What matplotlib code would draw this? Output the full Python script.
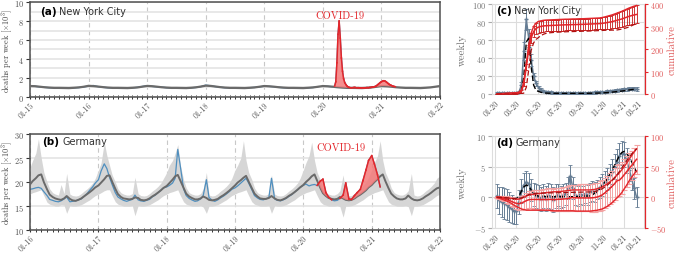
import numpy as np
import pandas as pd
import matplotlib
matplotlib.use('Agg')
import matplotlib.pyplot as plt
import matplotlib.dates as mdates

plt.rcParams['font.family'] = 'serif'
plt.rcParams['font.serif'] = ['cmr10']
plt.rcParams['mathtext.fontset'] = 'cm'
plt.rcParams['axes.formatter.use_mathtext'] = True

# ---------------- (a) New York City, deaths per week [x10^3] ----------------
nyc_months = pd.date_range('2015-01-01', '2022-01-01', freq='MS')
nyc_expected = [
    1.15, 1.13, 1.08, 1.02, 0.98, 0.95, 0.95, 0.94, 0.93, 0.96, 1.00, 1.07,
    1.17, 1.14, 1.09, 1.03, 0.98, 0.95, 0.95, 0.94, 0.93, 0.96, 1.00, 1.08,
    1.16, 1.13, 1.08, 1.02, 0.98, 0.95, 0.95, 0.94, 0.93, 0.96, 1.01, 1.09,
    1.19, 1.16, 1.10, 1.03, 0.98, 0.95, 0.95, 0.94, 0.93, 0.96, 1.00, 1.07,
    1.15, 1.12, 1.08, 1.02, 0.98, 0.95, 0.95, 0.94, 0.93, 0.96, 1.00, 1.07,
    1.15, 1.12, 1.08, 1.02, 0.98, 0.95, 0.95, 0.94, 0.93, 0.96, 1.00, 1.07,
    1.15, 1.12, 1.08, 1.02, 0.98, 0.95, 0.95, 0.94, 0.93, 0.96, 1.00, 1.07,
    1.15]
nyc_observed_pre = [
    1.18, 1.12, 1.06, 1.01, 0.97, 0.95, 0.96, 0.93, 0.92, 0.95, 0.99, 1.05,
    1.14, 1.20, 1.08, 1.01, 0.97, 0.94, 0.96, 0.93, 0.94, 0.95, 1.01, 1.10,
    1.18, 1.11, 1.07, 1.03, 0.97, 0.94, 0.94, 0.95, 0.92, 0.95, 1.00, 1.08,
    1.24, 1.17, 1.09, 1.02, 0.97, 0.96, 0.94, 0.93, 0.93, 0.97, 1.00, 1.06,
    1.13, 1.11, 1.07, 1.01, 0.97, 0.94, 0.96, 0.94, 0.92, 0.96, 0.99, 1.08]
nyc_weeks = pd.date_range('2020-01-05', '2021-03-28', freq='7D')
nyc_observed_wk = [
    1.17, 1.15, 1.13, 1.12, 1.12, 1.10, 1.09, 1.08,
    1.07, 1.08, 1.15, 1.60, 3.60, 6.60, 8.00, 6.20, 4.10,
    2.70, 1.90, 1.50, 1.30, 1.15, 1.05, 1.00, 0.97, 0.96,
    0.97, 0.99, 1.00, 0.97, 0.96, 0.97, 0.95, 0.94, 0.96,
    0.95, 0.94, 0.95, 0.97, 0.98, 0.97, 0.99, 1.00,
    1.02, 1.04, 1.06, 1.10, 1.15, 1.25, 1.35, 1.45, 1.55,
    1.62, 1.68, 1.70, 1.66, 1.58, 1.48, 1.38, 1.30, 1.24,
    1.18, 1.13, 1.10, 1.08]
nyc_expected_wk = [
    1.15, 1.14, 1.13, 1.12, 1.12, 1.11, 1.10, 1.09,
    1.08, 1.07, 1.06, 1.05, 1.04, 1.03, 1.02, 1.01, 1.00,
    0.99, 0.98, 0.97, 0.97, 0.96, 0.96, 0.95, 0.95, 0.95,
    0.95, 0.95, 0.95, 0.95, 0.94, 0.94, 0.94, 0.94, 0.93,
    0.93, 0.93, 0.93, 0.94, 0.95, 0.96, 0.97, 0.98,
    0.99, 1.00, 1.01, 1.03, 1.04, 1.06, 1.08, 1.10, 1.12,
    1.14, 1.15, 1.15, 1.15, 1.14, 1.13, 1.12, 1.11, 1.10,
    1.09, 1.08, 1.07, 1.06]

# ---------------- (b) Germany, deaths per week [x10^3], semi-monthly ----------------
de_dates = pd.date_range('2016-01-01', '2022-01-01', freq='SMS')
de_expected = [
    19.5, 20.2, 20.8, 21.4, 21.6, 20.0, 18.5, 17.4, 16.9, 16.6, 16.4, 16.3, 16.6, 17.1, 16.5, 16.2, 16.1, 16.3, 16.6, 17.0, 17.5, 17.9, 18.4, 18.9,
    19.3, 19.9, 20.6, 21.3, 21.4, 20.1, 18.6, 17.5, 16.9, 16.6, 16.5, 16.4, 16.5, 16.8, 16.7, 16.3, 16.2, 16.3, 16.6, 17.0, 17.4, 17.8, 18.3, 18.8,
    19.2, 19.8, 20.5, 21.2, 21.5, 20.3, 18.8, 17.6, 17.0, 16.7, 16.4, 16.4, 16.6, 17.0, 16.7, 16.3, 16.2, 16.3, 16.5, 16.9, 17.3, 17.7, 18.2, 18.7,
    19.3, 19.9, 20.4, 20.9, 21.3, 20.1, 18.7, 17.6, 17.0, 16.6, 16.5, 16.5, 16.7, 17.1, 16.6, 16.3, 16.2, 16.4, 16.7, 17.1, 17.5, 17.9, 18.4, 18.9,
    19.4, 20.0, 20.6, 21.2, 21.6, 20.3, 18.8, 17.7, 17.1, 16.7, 16.5, 16.4, 16.5, 16.9, 16.6, 16.3, 16.2, 16.3, 16.6, 17.0, 17.4, 17.8, 18.3, 18.9,
    19.4, 20.0, 20.6, 21.2, 21.6, 20.2, 18.7, 17.6, 17.0, 16.6, 16.4, 16.4, 16.6, 17.2, 16.6, 16.3, 16.2, 16.3, 16.6, 17.0, 17.4, 17.8, 18.3, 18.7,
    18.9]
de_upper = [
    23.0, 24.5, 26.0, 29.0, 25.0, 22.0, 20.0, 18.6, 17.8, 17.5, 17.3, 19.5, 17.6, 21.8, 17.5, 17.2, 17.1, 17.2, 17.6, 18.1, 18.6, 19.1, 19.8, 20.8,
    22.5, 24.0, 28.3, 25.5, 23.5, 21.5, 20.0, 18.6, 17.8, 17.5, 17.3, 17.3, 17.6, 21.0, 17.6, 17.2, 17.1, 17.2, 17.6, 18.1, 18.6, 19.1, 19.8, 20.8,
    22.0, 23.5, 24.5, 26.0, 27.8, 23.5, 20.5, 18.8, 17.8, 17.5, 17.3, 17.3, 17.6, 18.6, 22.0, 17.3, 17.1, 17.2, 17.6, 18.1, 18.6, 19.1, 19.8, 20.8,
    22.5, 23.5, 25.0, 28.6, 24.5, 22.0, 20.5, 18.8, 17.8, 17.5, 17.3, 17.3, 17.6, 21.5, 17.5, 17.2, 17.1, 17.2, 17.6, 18.1, 18.6, 19.1, 19.8, 20.8,
    22.5, 24.0, 25.5, 28.3, 24.5, 22.0, 20.5, 18.8, 17.8, 17.5, 17.3, 17.3, 17.6, 18.2, 21.5, 17.3, 17.1, 17.2, 17.6, 18.1, 18.6, 19.3, 20.0, 21.0,
    22.5, 24.0, 25.5, 28.6, 24.5, 22.0, 20.5, 18.8, 17.8, 17.5, 17.3, 17.3, 17.6, 18.2, 21.8, 17.3, 17.1, 17.2, 17.6, 18.1, 18.6, 19.1, 19.8, 20.8,
    21.3]
de_lower = [
    17.5, 17.8, 18.0, 18.2, 18.4, 17.2, 15.8, 15.4, 15.2, 15.0, 15.0, 15.3, 15.2, 13.5, 15.1, 15.0, 15.0, 15.1, 15.3, 15.6, 16.0, 16.3, 16.8, 17.2,
    17.5, 17.8, 18.2, 18.4, 18.4, 17.2, 15.9, 15.4, 15.2, 15.0, 15.0, 15.0, 15.1, 13.0, 15.1, 15.0, 15.0, 15.1, 15.3, 15.6, 16.0, 16.3, 16.8, 17.2,
    17.5, 17.8, 18.0, 18.2, 18.4, 17.2, 15.9, 15.4, 15.2, 15.0, 15.0, 15.0, 15.1, 14.8, 13.5, 15.0, 15.0, 15.1, 15.3, 15.6, 16.0, 16.3, 16.8, 17.2,
    17.5, 17.8, 18.0, 18.2, 18.4, 17.2, 15.9, 15.4, 15.2, 15.0, 15.0, 15.0, 15.1, 13.5, 15.1, 15.0, 15.0, 15.1, 15.3, 15.6, 16.0, 16.3, 16.8, 17.2,
    17.5, 17.8, 18.0, 18.2, 18.4, 17.2, 15.9, 15.4, 15.2, 15.0, 15.0, 15.0, 15.1, 14.9, 12.7, 15.0, 15.0, 15.1, 15.3, 15.6, 16.0, 16.3, 16.8, 17.2,
    17.5, 17.8, 18.0, 18.2, 18.4, 17.2, 15.9, 15.4, 15.2, 15.0, 15.0, 15.0, 15.1, 14.9, 13.0, 15.0, 15.0, 15.1, 15.3, 15.6, 16.0, 16.3, 16.8, 17.2,
    17.5]
de_observed = [
    18.5, 18.6, 18.8, 18.9, 18.7, 18.0, 17.2, 16.4, 16.2, 16.0, 15.9, 16.1, 16.5, 16.9, 15.9, 16.0, 16.1, 16.3, 16.5, 17.0, 17.6, 18.3, 19.0, 19.8,
    20.5, 22.3, 23.8, 22.8, 21.0, 19.5, 17.8, 16.9, 16.5, 16.2, 16.0, 16.2, 16.4, 17.3, 16.3, 16.1, 16.0, 16.2, 16.4, 16.9, 17.3, 17.8, 18.3, 18.8,
    19.0, 19.3, 19.8, 20.8, 26.8, 23.2, 18.6, 17.2, 16.6, 16.3, 16.0, 16.1, 16.5, 17.2, 20.5, 16.8, 16.2, 16.0, 16.3, 16.7, 17.1, 17.5, 18.0, 18.5,
    18.8, 19.2, 19.8, 20.3, 20.8, 19.8, 18.4, 17.2, 16.7, 16.4, 16.3, 16.5, 16.8, 20.8, 16.5, 16.2, 16.1, 16.3, 16.6, 17.0, 17.4, 17.9, 18.4, 18.9,
    19.3, 19.6, 19.2, 19.4, 19.5, 19.3, 20.2, 20.6, 17.8, 16.9, 16.3, 16.1, 16.2, 16.6, 17.3, 19.8, 16.5, 16.4, 17.2, 17.8, 18.5, 20.3, 22.5, 24.5,
    25.5, 23.8, 21.5, 19.0]

# ---------------- (c)/(d) excess deaths per 100k, weekly and cumulative ----------------
wk_dates = pd.date_range('2020-01-05', periods=58, freq='7D')

nyc_weekly = [
    1.0, 1.2, 0.8, 1.1, 0.9, 1.0, 1.3, 0.8, 1.2, 2.0,
    10, 48, 83, 62, 38, 20, 12, 7, 5, 3.5, 2.5,
    2.0, 1.8, 1.5, 1.6, 1.4, 1.5, 1.3, 1.5, 1.2, 1.4, 1.3, 1.5, 1.2, 1.4, 1.6, 1.3, 1.5, 1.7, 1.6, 1.8, 2.0, 2.2,
    2.4, 2.7, 3.0, 3.2, 3.6, 3.9, 4.2, 4.6, 5.0, 5.3, 5.6, 5.8, 6.0, 5.8, 5.6]
nyc_weekly_err = [
    1.0, 1.0, 1.0, 1.0, 1.0, 1.0, 1.0, 1.0, 1.0, 1.2,
    4, 10, 12, 10, 7, 4, 3, 2, 1.5, 1.5, 1.5,
    1.2, 1.2, 1.2, 1.2, 1.2, 1.2, 1.2, 1.2, 1.2, 1.2, 1.2, 1.2, 1.2, 1.2, 1.2, 1.2, 1.2, 1.2, 1.2, 1.2, 1.3, 1.3,
    1.3, 1.3, 1.4, 1.4, 1.4, 1.5, 1.5, 1.5, 1.6, 1.6, 1.6, 1.7, 1.7, 1.7, 1.8]
nyc_weekly_model = [
    0.2, 0.2, 0.2, 0.2, 0.2, 0.2, 0.2, 0.3, 0.5, 1.0,
    3, 20, 58, 62, 30, 10, 4, 3, 2, 1.5, 1.2,
    1.0, 1.0, 0.9, 0.9, 0.9, 0.8, 0.8, 0.8, 0.8, 0.8, 0.8, 0.8, 0.8, 0.8, 0.8, 0.9, 0.9, 1.0, 1.0, 1.1, 1.1, 1.2,
    1.3, 1.5, 1.7, 1.9, 2.2, 2.5, 2.8, 3.1, 3.4, 3.8, 4.2, 4.6, 5.0, 5.3, 5.5]
nyc_cum = [
    0.5, 1, 1.5, 2, 2.5, 3, 3.5, 4, 4.5, 6,
    12, 45, 120, 200, 250, 278, 292, 298, 301, 303, 304,
    304.5, 305, 305.5, 306, 306.5, 307, 307.5, 308, 308, 308.5, 309, 309, 309.5, 310, 310, 310.5, 311, 311.5, 312, 312.5, 313, 313.5,
    314.5, 316, 318, 320, 322, 325, 328, 331, 334, 338, 342, 346, 349, 352, 354]
nyc_cum_err = [
    1, 1, 1, 1, 1.5, 1.5, 1.5, 2, 2, 3,
    5, 10, 15, 20, 22, 23, 24,
    25, 25, 25, 25, 25, 25, 25, 25, 25, 25, 25, 25, 25, 25, 25, 25, 25, 25, 25, 25, 25, 25, 25, 25, 25, 25,
    26, 27, 28, 29, 30, 31, 32, 33, 34, 35, 36, 37, 38, 39, 40]
nyc_cum_model = [
    0, 0, 0, 0, 0, 0, 0, 0, 0, 1, 2,
    5, 30, 110, 195, 228, 243, 252, 260, 266, 270,
    272, 273, 274, 275, 275.5, 276, 276.5, 277, 277.5, 278, 278, 278.5, 279, 279, 279.5, 280, 280, 280.5, 281, 281.5, 282, 282.5,
    283, 283.5, 284, 284, 284.5, 284.5, 285, 287, 289, 292, 295, 299, 304, 309, 314]

de_weekly = [
    0.2, -0.5, -0.8, -1.0, -1.2, -1.6, -1.9, -2.2, -2.3, -0.8,
    1.0, 2.0, 2.5, 2.2, 1.2, 0.5, 0.2, 0.0, -0.3, 0.2,
    -0.2, 0.3, 0.1, -0.4, 0.2, 0.4, 0.1, 0.3, 0.6, 1.5,
    3.5, 1.5, 0.4, 0.2, 0.5, 0.3, 0.6, 0.4, 0.8, 1.0,
    0.9, 1.3, 1.6, 2.0, 2.5, 3.0, 3.6, 4.2, 5.0, 5.8,
    6.8, 7.2, 7.0, 6.0, 4.5, 3.0, 1.5, 0.0]
de_weekly_err = [
    2.0, 2.2, 2.4, 2.5, 2.5, 2.4, 2.3, 2.2, 2.0, 2.0,
    2.0, 1.9, 1.8, 1.8, 1.8, 1.9, 2.0, 2.0, 2.0, 2.0,
    2.0, 2.0, 2.0, 2.0, 1.9, 1.8, 1.8, 1.8, 1.8, 1.8,
    1.8, 1.8, 1.7, 1.6, 1.6, 1.6, 1.6, 1.6, 1.6, 1.6,
    1.6, 1.6, 1.7, 1.8, 1.8, 1.8, 1.9, 2.0, 2.0, 2.0,
    2.0, 2.0, 2.0, 2.0, 1.8, 1.8, 1.7, 1.6]
de_weekly_model = [
    0.0, -0.1, -0.2, -0.3, -0.3, -0.4, -0.4, -0.3, -0.2, 0.2,
    1.0, 1.7, 2.0, 1.8, 1.2, 0.6, 0.3,
    0.2, 0.2, 0.2, 0.1, 0.1, 0.1, 0.1, 0.1, 0.1, 0.1, 0.1, 0.1, 0.1, 0.1, 0.1, 0.1, 0.1, 0.1, 0.1, 0.2, 0.2, 0.2,
    0.4, 0.7, 1.0, 1.4, 1.9, 2.4, 3.0, 3.7, 4.4, 5.2, 6.0, 6.8, 7.3, 7.5, 7.2, 6.5, 5.8, 4.9, 4.1]
de_cum = [
    0, -0.5, -1.3, -2.3, -3.5, -5.0, -6.8, -8.5, -10.0, -10.5,
    -9.5, -7.5, -5.5, -4.0, -3.5, -3.5, -3.5, -3.5, -3.8, -3.6,
    -3.8, -3.5, -3.4, -3.8, -3.6, -3.2, -3.1, -2.8, -2.5, -2.0,
    -1.0, -0.5, -0.8, -0.9, -1.0, -1.0, -1.0, -1.0, -1.0, -0.8,
    -0.3, 0.5, 2.0, 4.0, 7.0, 10.5, 14.0, 18.0, 22.0, 27.0,
    28.0, 32.0, 37.0, 42.0, 47.0, 52.0, 57.0, 62.0]
de_cum_hi = [
    0.5, 0.5, 0, -0.5, -1, -1.5, -2, -2.5, -3, -3,
    -2, 0, 2, 3.5, 4.5, 5, 5.5, 6, 6.5, 7,
    7.5, 8, 8.5, 9, 9, 9.5, 9.5, 10, 10.5, 11,
    11.5, 12, 12, 12, 12, 12, 12, 12, 12, 12.5,
    13, 14, 15, 17, 19, 22, 25, 28, 32, 36,
    40, 45, 50, 56, 62, 68, 74, 79]
de_cum_lo = [
    -0.5, -1.5, -3, -4.5, -6, -8, -10, -13, -15, -17,
    -19, -20, -21, -21, -21, -21, -21, -21, -21, -21,
    -21, -21, -21.5, -22, -22, -22, -22, -22, -22, -22,
    -22, -22, -22.5, -22.5, -22.5, -22.5, -22.5, -22.5, -22.5, -22,
    -21.5, -21, -20, -19, -17, -15, -12, -9, -5, -1,
    3, 8, 14, 20, 27, 33, 38, 43]
de_cum_err = [
    1, 2, 3, 4, 5, 6, 7, 8, 9, 10,
    11, 12, 13, 14, 14, 15, 15, 16, 16, 17,
    17, 18, 18, 18, 19, 19, 19, 20, 20, 20,
    21, 21, 21, 21, 22, 22, 22, 22, 22, 23,
    23, 23, 24, 24, 24, 25, 25, 25, 26, 26,
    26, 26, 25, 25, 25, 24, 24, 24]
de_cum_model = [
    0, 0, -0.2, -0.5, -0.8, -1.2, -1.6, -1.9, -2.1, -1.9,
    -1, 0.7, 2.7, 4.5, 5.7, 6.3, 6.6,
    6.7, 6.8, 6.9, 7.0, 7.1, 7.2, 7.3, 7.4, 7.5, 7.6, 7.7, 7.8, 7.9, 8.0, 8.1, 8.2, 8.3, 8.4, 8.5, 8.6, 8.7, 8.8,
    9, 9.5, 10.5, 12, 14, 16.5, 19.5, 23, 27, 31.5, 36.5, 42, 48, 54, 60, 65.5, 70.5, 75, 79]

# ---------------- styles ----------------
BLUE = '#4f8fbf'
GRAY = '#6a6a6a'
BAND = '#d6d6d6'
RED = '#e3262b'
FILLRED = '#f47a7a'
SLATE = '#667d94'
TICKC = '#555555'
covid_start = pd.Timestamp('2020-03-10')


def red_excess(ax, x, obs, base):
    x = pd.DatetimeIndex(x)
    obs = np.asarray(obs, dtype=float)
    base = np.asarray(base, dtype=float)
    above = (obs > base) & (x >= covid_start)
    ax.fill_between(x, obs, base, where=above, interpolate=True,
                    color=FILLRED, alpha=0.85, lw=0, zorder=4)
    for i in range(len(x) - 1):
        if x[i] >= covid_start and (above[i] or above[i + 1]):
            ax.plot(x[i:i + 2], obs[i:i + 2], color=RED, lw=1.1, zorder=5)


def rotate_labels(ax):
    for lab in ax.get_xticklabels():
        lab.set_rotation(45)
        lab.set_ha('right')
        lab.set_va('top')
        lab.set_rotation_mode('anchor')


def style_long(ax):
    for s in ax.spines.values():
        s.set_color('#505050')
        s.set_linewidth(1.1)
    ax.xaxis.set_major_locator(mdates.YearLocator())
    ax.xaxis.set_minor_locator(mdates.MonthLocator())
    ax.xaxis.set_major_formatter(mdates.DateFormatter('%m-%y'))
    ax.tick_params(axis='x', which='major', direction='inout', length=3.5, width=0.8,
                   labelsize=5.7, labelcolor=TICKC, color='#333333', pad=0.5)
    ax.tick_params(axis='x', which='minor', direction='inout', length=2.5, width=0.7,
                   color='#333333')
    ax.tick_params(axis='y', which='major', direction='out', length=3, width=0.8,
                   labelsize=6, labelcolor=TICKC, color='#333333', pad=1.5)
    ax.tick_params(axis='y', which='minor', length=0)
    rotate_labels(ax)
    ax.grid(axis='x', which='major', color='#c8c8c8', ls=(0, (4, 3)), lw=0.8)
    ax.set_axisbelow(True)
    ax.set_ylabel(r'deaths per week $[\times 10^3]$', fontsize=5.9, color='#444444')
    ax.yaxis.set_label_coords(-0.037, 0.5)


def panel_title(ax, letter, name, x, y):
    t = ax.text(x, y, letter, transform=ax.transAxes, family='DejaVu Sans',
                fontweight='bold', fontsize=7.5, va='center', ha='left', zorder=10)
    ax.annotate(name, xy=(1, 0.5), xycoords=t, xytext=(2, 0), textcoords='offset points',
                family='DejaVu Sans', fontsize=7, va='center', ha='left', color='#333333',
                zorder=10)


fig = plt.figure(figsize=(6.76, 2.55), dpi=100)

# ---- (a)
ax_a = fig.add_axes([0.0444, 0.616, 0.6065, 0.372])
ax_a.plot(nyc_months[:len(nyc_observed_pre)], nyc_observed_pre, color=BLUE, lw=1.0, zorder=2)
ax_a.plot(nyc_weeks, nyc_observed_wk, color=BLUE, lw=1.0, zorder=2)
ax_a.plot(nyc_months, nyc_expected, color=GRAY, lw=1.6, zorder=3)
red_excess(ax_a, nyc_weeks, nyc_observed_wk, nyc_expected_wk)
ax_a.set_xlim(pd.Timestamp('2015-01-01'), pd.Timestamp('2022-01-01'))
ax_a.set_ylim(0, 10)
ax_a.set_yticks(np.arange(0, 11, 2))
ax_a.set_yticks(np.arange(1, 10, 2), minor=True)
ax_a.grid(axis='y', which='both', color='#e4e4e4', lw=1.2)
style_long(ax_a)
ax_a.text(pd.Timestamp('2020-04-15'), 8.15, 'COVID-19', color=RED, fontsize=7.5,
          ha='center', va='bottom')
panel_title(ax_a, '(a)', 'New York City', 0.024, 0.905)

# ---- (b)
ax_b = fig.add_axes([0.0444, 0.0935, 0.6065, 0.377])
ax_b.fill_between(de_dates, de_lower, de_upper, color=BAND, lw=0, zorder=1)
ax_b.plot(de_dates[:len(de_observed)], de_observed, color=BLUE, lw=0.9, zorder=2)
ax_b.plot(de_dates, de_expected, color=GRAY, lw=1.4, zorder=3)
red_excess(ax_b, de_dates[:len(de_observed)], de_observed, de_expected[:len(de_observed)])
ax_b.set_xlim(pd.Timestamp('2016-01-01'), pd.Timestamp('2022-01-01'))
ax_b.set_ylim(10, 30)
ax_b.set_yticks([10, 15, 20, 25, 30])
ax_b.grid(axis='y', which='major', color='#e4e4e4', lw=1.2)
style_long(ax_b)
ax_b.text(pd.Timestamp('2020-07-20'), 26.2, 'COVID-19', color=RED, fontsize=7.5,
          ha='center', va='bottom')
panel_title(ax_b, '(b)', 'Germany', 0.03, 0.925)


# ---- (c), (d)
def style_short(ax, tw):
    for s in ['top', 'bottom', 'left']:
        ax.spines[s].set_color('#dddddd')
        tw.spines[s].set_visible(False)
    ax.spines['right'].set_visible(False)
    tw.spines['right'].set_color(RED)
    tw.spines['right'].set_linewidth(0.9)
    ax.xaxis.set_major_locator(mdates.MonthLocator(bymonth=[1, 3, 5, 7, 9, 11]))
    ax.xaxis.set_major_formatter(mdates.DateFormatter('%m-%y'))
    ax.tick_params(axis='x', length=0, labelsize=5.7, labelcolor=TICKC, pad=3)
    ax.tick_params(axis='y', length=3, color='#aaaaaa', labelsize=6, labelcolor='#777777', pad=1.5)
    tw.tick_params(axis='y', length=2.5, color=RED, labelsize=6, labelcolor='#e05a5a', pad=1.2)
    rotate_labels(ax)
    ax.grid(color='#dcdcdc', lw=0.8)
    ax.set_axisbelow(True)
    ax.set_xlim(pd.Timestamp('2019-12-22'), pd.Timestamp('2021-03-03'))
    ax.set_ylabel('weekly', fontsize=7.8, color='#777777')
    ax.yaxis.set_label_coords(-0.165, 0.5)
    tw.set_ylabel('cumulative', fontsize=7.5, color='#e05a5a', rotation=90)
    tw.yaxis.set_label_coords(1.145, 0.5)


ax_c = fig.add_axes([0.7278, 0.627, 0.2263, 0.353])
tw_c = ax_c.twinx()
ax_c.errorbar(wk_dates, nyc_weekly, yerr=nyc_weekly_err, color=SLATE, lw=1.1,
              elinewidth=0.7, capsize=1.5, capthick=0.6, marker='+', ms=2.5, zorder=3)
ax_c.plot(wk_dates, nyc_weekly_model, color='black', lw=1.0, ls=(0, (4, 2)), zorder=4)
tw_c.errorbar(wk_dates, nyc_cum, yerr=nyc_cum_err, color=RED, lw=1.1,
              elinewidth=0.6, ecolor='#c41a1a', capsize=1.5, capthick=0.6, zorder=3)
tw_c.plot(wk_dates, np.array(nyc_cum) + np.array(nyc_cum_err), color=RED, lw=1.0, zorder=3)
tw_c.plot(wk_dates, nyc_cum_model, color='#b01010', lw=0.9, ls=(0, (4, 2)), zorder=4)
ax_c.set_ylim(0, 100)
ax_c.set_yticks([0, 20, 40, 60, 80, 100])
tw_c.set_ylim(0, 400)
tw_c.set_yticks([0, 100, 200, 300, 400])
style_short(ax_c, tw_c)
panel_title(tw_c, '(c)', 'New York City', 0.025, 0.93)

ax_d = fig.add_axes([0.7278, 0.102, 0.2263, 0.361])
tw_d = ax_d.twinx()
ax_d.errorbar(wk_dates, de_weekly, yerr=de_weekly_err, color=SLATE, lw=1.1,
              elinewidth=0.7, capsize=1.5, capthick=0.6, marker='+', ms=2.5, zorder=3)
ax_d.plot(wk_dates, de_weekly_model, color='black', lw=1.0, ls=(0, (4, 2)), zorder=4)
tw_d.errorbar(wk_dates, de_cum, yerr=de_cum_err, fmt='none', ecolor='#f3a3a3',
              elinewidth=0.7, capsize=2, capthick=0.8, zorder=2)
tw_d.plot(wk_dates, de_cum, color=RED, lw=1.1, zorder=3)
tw_d.plot(wk_dates, de_cum_hi, color=RED, lw=1.0, zorder=3)
tw_d.plot(wk_dates, de_cum_lo, color=RED, lw=1.0, zorder=3)
tw_d.plot(wk_dates, de_cum_model, color='#a01010', lw=0.9, ls=(0, (4, 2)), zorder=4)
ax_d.set_ylim(-5, 10)
ax_d.set_yticks([-5, 0, 5, 10])
tw_d.set_ylim(-50, 100)
tw_d.set_yticks([-50, 0, 50, 100])
style_short(ax_d, tw_d)
panel_title(tw_d, '(d)', 'Germany', 0.025, 0.93)

# recolor the cap lines of the Germany error bars in red
for line in tw_d.lines:
    if line.get_marker() == '_':
        line.set_color(RED)

fig.savefig('out.png', dpi=100)
